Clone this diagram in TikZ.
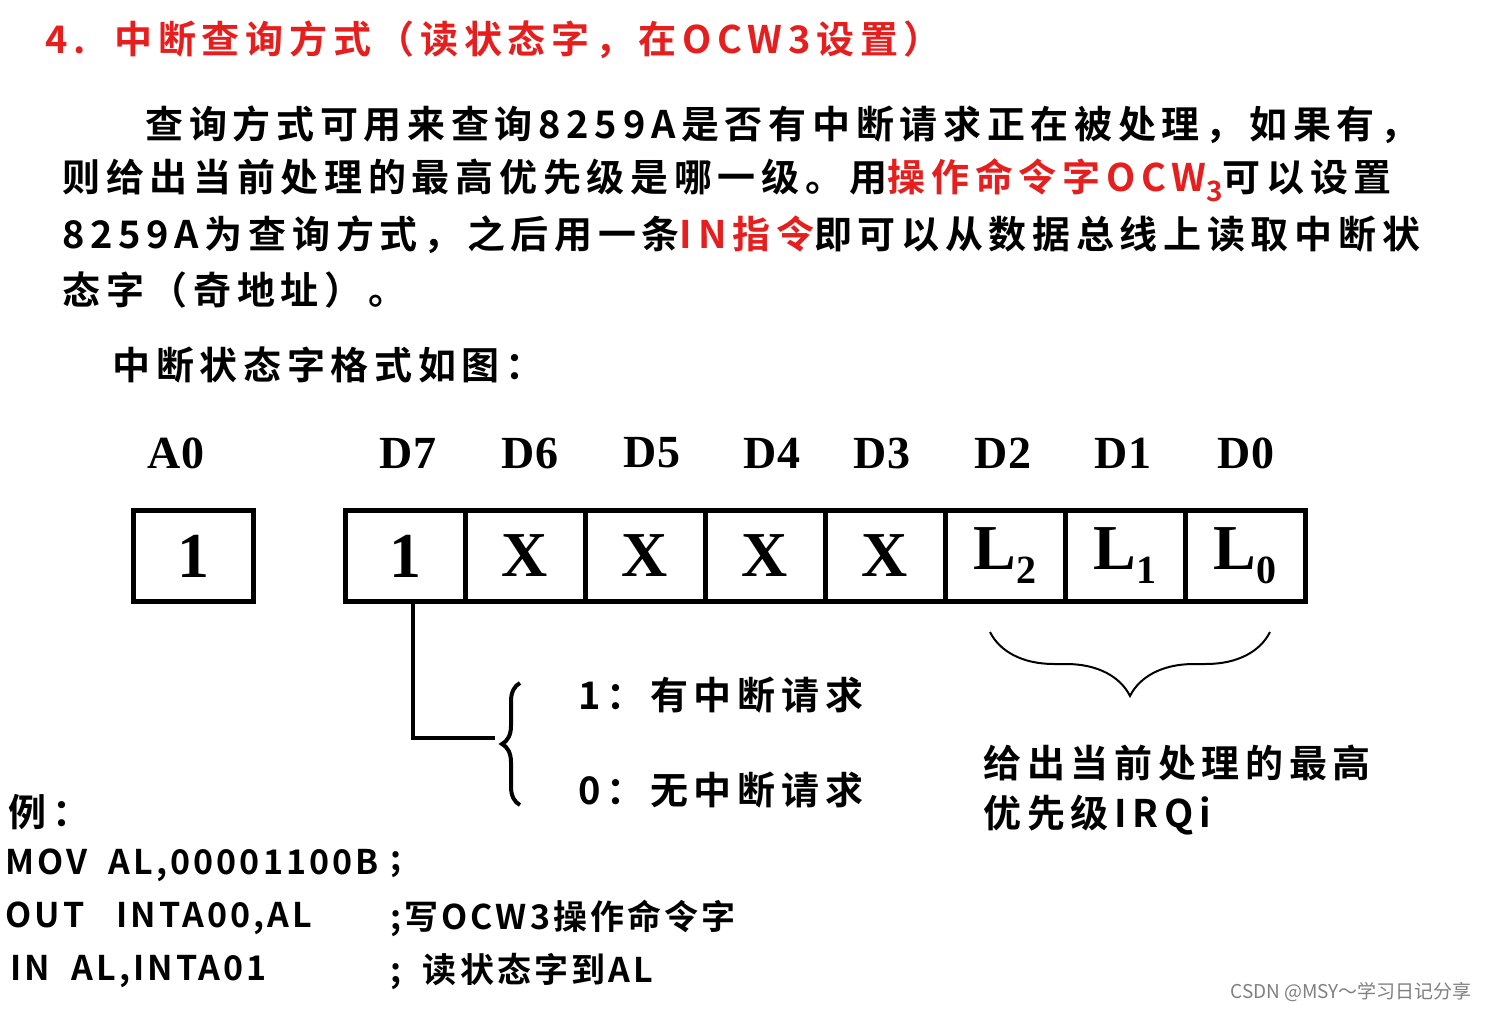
\documentclass[tikz,border=0pt]{standalone}
\usepackage{fontspec}
\usetikzlibrary{decorations.pathreplacing}
\newfontfamily\cjk[LetterSpace=15,BoldFont={Noto Sans CJK SC Bold}]{Noto Sans CJK SC}
\newfontfamily\cjkc[LetterSpace=9,BoldFont={Noto Sans CJK SC Bold}]{Noto Sans CJK SC}
\newfontfamily\cjkt{Noto Sans CJK SC}
\newfontfamily\regf{Liberation Serif}
\definecolor{tred}{RGB}{230,30,30}
\newcommand{\lsub}[1]{L\raisebox{-7pt}{\fontsize{20}{20}\selectfont #1}}
\begin{document}
\begin{tikzpicture}[x=0.5pt,y=-0.5pt,
  txt/.style={anchor=west,inner sep=0pt,font=\cjk\bfseries\fontsize{19}{19}\selectfont},
  code/.style={anchor=west,inner sep=0pt,font=\cjkc\bfseries\fontsize{17}{17}\selectfont},
  lab/.style={inner sep=0pt,font=\regf\bfseries\fontsize{23}{23}\selectfont},
  cell/.style={draw,line width=2.5pt,minimum width=60pt,minimum height=45.5pt,inner sep=0pt,font=\regf\bfseries\fontsize{32}{32}\selectfont},
  ln/.style={line width=2pt}]
\useasboundingbox (0,0) rectangle (1496,1011);
\fill[white] (0,0) rectangle (1496,1011);
\node[txt,text=tred] (title) at (45,40) {4.\ \ 中断查询方式（读状态字，在OCW3设置）};
\node[txt] (p1) at (145,125) {查询方式可用来查询8259A是否有中断请求正在被处理，如果有，};
\node[txt] (p2) at (62,180) {则给出当前处理的最高优先级是哪一级。\,用\textcolor{tred}{操作命令字OCW\raisebox{-5pt}{\fontsize{14}{14}\selectfont 3}}可以设置};
\node[txt] (p3) at (62,235) {8259A为查询方式，之后用一条\textcolor{tred}{IN指令}即可以从数据总线上读取中断状};
\node[txt] (p4) at (62,290) {态字（奇地址）。};
\node[txt] (p5) at (112,365) {中断状态字格式如图：};
\foreach \n/\x in {A0/176,D7/408,D6/530,D5/652,D4/772,D3/882,D2/1003,D1/1123,D0/1246}
  \node[lab] (l\n) at (\x,453) {\n};
\node[cell] (a0) at (193,556) {1};
\foreach \i/\t [count=\k] in {7/1,6/X,5/X,4/X,3/X,2/{\lsub{2}},1/{\lsub{1}},0/{\lsub{0}}}
  \node[cell] (d\i) at ({345+60+120*(\k-1)},556) {\t};
\coordinate (c0) at ([xshift=4pt]d7.south);
\coordinate (c1) at (413,738);
\coordinate (c2) at (495,738);
\draw[ln] (c0) -- (c1) -- (c2);
\coordinate (b1) at (520,805);
\coordinate (b2) at (520,683);
\draw[ln,decorate,decoration={brace,amplitude=9pt}] (b1) -- (b2);
\node[txt] (o1) at (578,695) {1：有中断请求};
\node[txt] (o0) at (578,790) {0：无中断请求};
\coordinate (e1) at (1270,632);
\coordinate (e2) at (990,632);
\draw[line width=1pt,decorate,decoration={brace,amplitude=32pt,aspect=0.5}] (e1) -- (e2);
\node[txt] (g1) at (983,763) {给出当前处理的最高};
\node[txt] (g2) at (983,815) {优先级IRQi};
\node[txt] (ex) at (8,812) {例：};
\node[code] (m1) at (5,865) {MOV\ \ AL,00001100B};
\node[code] (s1) at (390,865) {;};
\node[code] (m2) at (5,918) {OUT\ \ \ INTA00,AL};
\node[code] (s2) at (390,918) {;写OCW3操作命令字};
\node[code] (m3) at (10,972) {IN\ \ AL,INTA01};
\node[code] (s3) at (390,972) {;\ \ 读状态字到AL};
\node[anchor=west,inner sep=0pt,text=gray,font=\cjkt\fontsize{9.5}{9.5}\selectfont] (wm) at (1230,992) {CSDN @MSY～学习日记分享};
\end{tikzpicture}
\end{document}
